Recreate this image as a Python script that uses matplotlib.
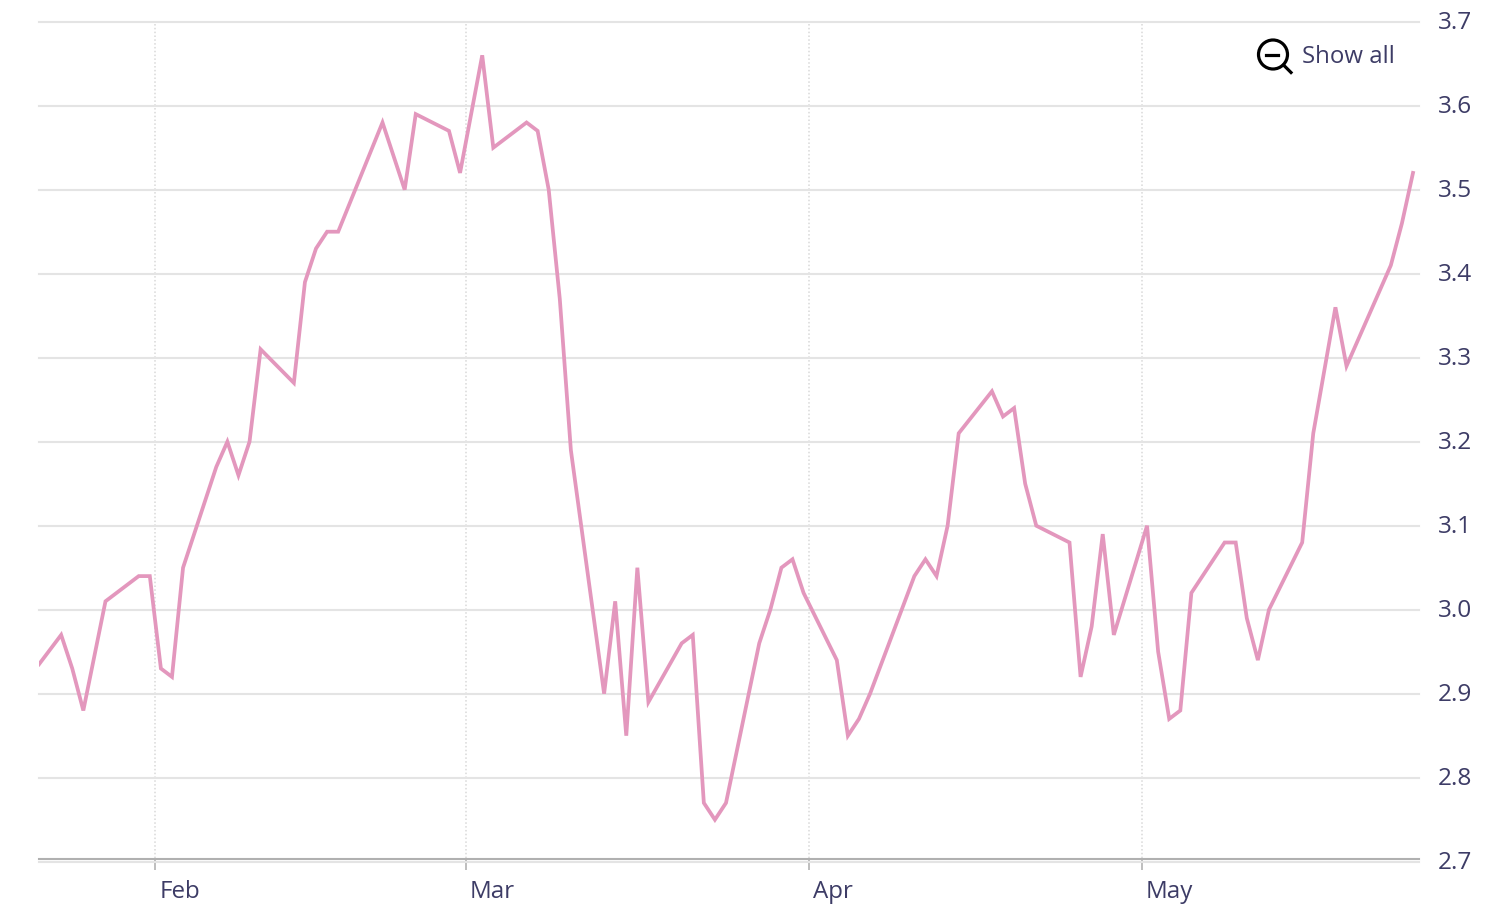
import pandas as pd
import matplotlib
matplotlib.use('Agg')
import matplotlib.pyplot as plt
from matplotlib.patches import Circle
from matplotlib.lines import Line2D
from matplotlib.transforms import Affine2D, ScaledTranslation

#Values, trading days of 2022
dates = ['01-22', '01-24', '01-25', '01-26', '01-28', '01-31', '02-01', '02-02', '02-03', '02-04',
         '02-07', '02-08', '02-09', '02-10', '02-11', '02-14', '02-15', '02-16', '02-17', '02-18',
         '02-22', '02-23', '02-24', '02-25', '02-28', '03-01', '03-02', '03-03', '03-04', '03-07',
         '03-08', '03-09', '03-10', '03-11', '03-14', '03-15', '03-16', '03-17', '03-18', '03-21',
         '03-22', '03-23', '03-24', '03-25', '03-28', '03-29', '03-30', '03-31', '04-01', '04-04',
         '04-05', '04-06', '04-07', '04-11', '04-12', '04-13', '04-14', '04-15', '04-18', '04-19',
         '04-20', '04-21', '04-22', '04-25', '04-26', '04-27', '04-28', '04-29', '05-02', '05-03',
         '05-04', '05-05', '05-06', '05-09', '05-10', '05-11', '05-12', '05-13', '05-16', '05-17',
         '05-19', '05-20', '05-24', '05-25', '05-26']
values = [2.935, 2.97, 2.93, 2.88, 3.01, 3.04, 3.04, 2.93, 2.92, 3.05,
          3.17, 3.20, 3.16, 3.20, 3.31, 3.27, 3.39, 3.43, 3.45, 3.45,
          3.58, 3.54, 3.50, 3.59, 3.57, 3.52, 3.59, 3.66, 3.55, 3.58,
          3.57, 3.50, 3.37, 3.19, 2.90, 3.01, 2.85, 3.05, 2.89, 2.96,
          2.97, 2.77, 2.75, 2.77, 2.96, 3.00, 3.05, 3.06, 3.02, 2.94,
          2.85, 2.87, 2.90, 3.04, 3.06, 3.04, 3.10, 3.21, 3.26, 3.23,
          3.24, 3.15, 3.10, 3.08, 2.92, 2.98, 3.09, 2.97, 3.10, 2.95,
          2.87, 2.88, 3.02, 3.08, 3.08, 2.99, 2.94, 3.00, 3.08, 3.21,
          3.36, 3.29, 3.41, 3.46, 3.52]
month_ticks = ['2022-02-01 12:00', '2022-03-01 12:00', '2022-04-01 12:00', '2022-05-01 12:00']
month_labels = ['Feb', 'Mar', 'Apr', 'May']
y_ticks = [2.7, 2.8, 2.9, 3.0, 3.1, 3.2, 3.3, 3.4, 3.5, 3.6, 3.7]

W, H = 1506, 920
text_col = '#3d3c66'
plt.rcParams['font.family'] = ['Open Sans', 'DejaVu Sans']

x = pd.to_datetime(['2022-' + d for d in dates])
xt = pd.to_datetime(month_ticks)

fig = plt.figure(figsize=(W / 100, H / 100), dpi=100)
ax = fig.add_axes([39 / W, 1 - 862.7 / H, (1419 - 39) / W, 840 / H])

ax.plot(x, values, color='#e397bd', lw=2.7, solid_joinstyle='miter', zorder=3)

ax.set_xlim(pd.Timestamp('2022-01-22'), pd.Timestamp('2022-05-26 13:00'))
ax.set_ylim(2.7, 3.7)

#Horizontal grid on the y ticks, labels on the right
ax.yaxis.tick_right()
ax.set_yticks(y_ticks)
ax.set_yticklabels(['%.1f' % v for v in y_ticks])
ax.tick_params(axis='y', length=0, pad=13.5, labelsize=17.6, labelcolor=text_col)
ax.grid(axis='y', color='#e4e4e4', lw=1.5, zorder=1)
for gl in ax.get_ygridlines():
    gl.set_clip_on(False)
up = ScaledTranslation(0, 2.6 / 100, fig.dpi_scale_trans)
for lab in ax.get_yticklabels():
    lab.set_transform(lab.get_transform() + up)

#Month ticks, the labels sit to the right of the tick
ax.set_xticks(xt)
ax.set_xticklabels([])
ax.tick_params(axis='x', length=8, width=1.2, color='#b3b3b3')
for t, lab in zip(xt, month_labels):
    ax.plot([t, t], [2.7, 3.698], color='#d8d8d8', lw=1.1, ls=(0, (1, 1.5)), zorder=1)
    ax.annotate(lab, (t, 2.7), xytext=(3, -21.3), textcoords='offset points', fontsize=17.4,
                color=text_col, ha='left', va='center')

for s in ['top', 'left', 'right']:
    ax.spines[s].set_visible(False)
#Dark axis line sits just above the 2.7 grid line
ax.spines['bottom'].set_position(('outward', -1.6))
ax.spines['bottom'].set_color('#b0b0b0')
ax.spines['bottom'].set_linewidth(1.5)

#Show all button, drawn in figure pixels
px = Affine2D().scale(1 / W, -1 / H).translate(0, 1) + fig.transFigure
fig.add_artist(Circle((1273, 55.5), 14.5, fill=False, ec='black', lw=2.3, transform=px))
fig.add_artist(Line2D([1283.5, 1291], [66, 73.5], color='black', lw=2.3, transform=px))
fig.add_artist(Line2D([1266.5, 1278.5], [55.5, 55.5], color='black', lw=2.3, transform=px))
fig.text(1302 / W, 1 - 57 / H, 'Show all', fontsize=17.3, color=text_col, ha='left', va='center')

plt.savefig('out.png', dpi=100)
